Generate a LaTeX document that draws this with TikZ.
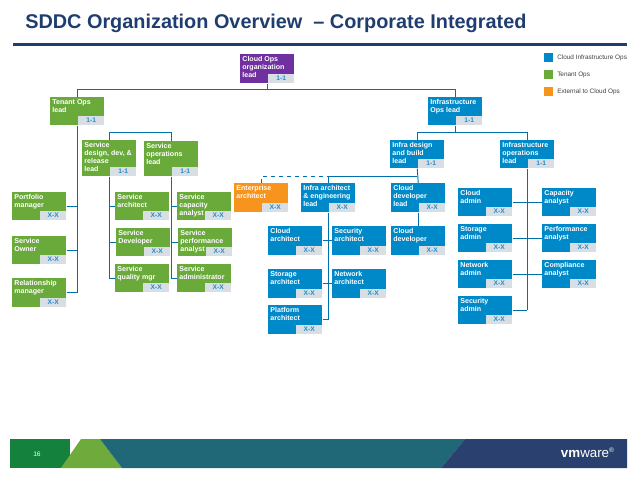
\documentclass[tikz,border=0pt]{standalone}
\usepackage{fontspec}
\setmainfont{Liberation Sans}
\definecolor{cgreen}{RGB}{106,170,58}
\definecolor{cblue}{RGB}{0,137,200}
\definecolor{cpurple}{RGB}{112,48,160}
\definecolor{corange}{RGB}{247,148,29}
\definecolor{cline}{RGB}{0,112,170}
\definecolor{ctag}{RGB}{216,222,228}
\definecolor{ctagtxt}{RGB}{30,140,205}
\definecolor{ctitle}{RGB}{31,62,111}
\definecolor{fdg}{RGB}{20,130,60}
\definecolor{flg}{RGB}{110,170,60}
\definecolor{fteal}{RGB}{32,104,120}
\definecolor{fnavy}{RGB}{42,64,110}
\tikzset{
 boxshape/.style={draw=none,inner sep=0pt,anchor=north west,minimum width=40.5pt},
 boxtxt/.style={anchor=north west,inner sep=1.6pt,text=white,font=\fontsize{5.3}{6}\selectfont\bfseries,align=left},
 tagbox/.style={anchor=south east,fill=ctag,inner sep=0pt,minimum width=19.5pt,minimum height=7pt,text=ctagtxt,font=\fontsize{5}{6}\selectfont\bfseries},
 conn/.style={draw=cline,line width=0.7pt},
 legtxt/.style={anchor=west,font=\fontsize{4.8}{6}\selectfont,text=black!75,inner sep=0pt}
}
\newcommand\bx[7]{%
 \node[boxshape,fill=#5,minimum height=#4*0.75pt] (#1) at (#2,#3) {};
 \node[boxtxt] at (#1.north west) {#6};
 \node[tagbox] at (#1.south east) {#7};}
\begin{document}
\begin{tikzpicture}[x=0.75pt,y=-0.75pt]
\useasboundingbox[fill=white] (0,0) rectangle (638,479);
% title
\node[anchor=west,inner sep=0pt,text=ctitle,font=\fontsize{14.9}{17}\selectfont\bfseries] (title) at (25,23) {SDDC Organization Overview \ --\ Corporate Integrated};
\fill[ctitle] (13,43) rectangle (627,45.5);
% legend
\fill[cblue] (544,53) rectangle (553,62); \node[legtxt] (l1) at (557,57.5) {Cloud Infrastructure Ops};
\fill[cgreen] (544,70) rectangle (553,79); \node[legtxt] (l2) at (557,74.5) {Tenant Ops};
\fill[corange] (544,87) rectangle (553,96); \node[legtxt] (l3) at (557,91.5) {External to Cloud Ops};
\coordinate (h1) at (0,89.5);
\coordinate (h2) at (0,132.5);
\coordinate (h3) at (0,176.5);
% boxes
\bx{co}{240}{54}{29}{cpurple}{Cloud Ops\\organization\\lead}{1-1}
\bx{tl}{50}{97}{28}{cgreen}{Tenant Ops\\lead}{1-1}
\bx{il}{428}{97}{28}{cblue}{Infrastructure\\Ops lead}{1-1}
\bx{sd}{82}{140}{36}{cgreen}{Service\\design, dev, \&\\release\\lead}{1-1}
\bx{so}{144}{141}{35}{cgreen}{Service\\operations\\lead}{1-1}
\bx{idb}{390}{140}{28}{cblue}{Infra design\\and build\\lead}{1-1}
\bx{iol}{500}{140}{28}{cblue}{Infrastructure\\operations\\lead}{1-1}
\bx{pm}{12}{192}{28}{cgreen}{Portfolio\\manager}{X-X}
\bx{sow}{12}{236}{28}{cgreen}{Service\\Owner}{X-X}
\bx{rm}{12}{278}{29}{cgreen}{Relationship\\manager}{X-X}
\bx{sa}{115}{192}{28}{cgreen}{Service\\architect}{X-X}
\bx{sdv}{116}{228}{28}{cgreen}{Service\\Developer}{X-X}
\bx{sq}{115}{264}{28}{cgreen}{Service\\quality mgr}{X-X}
\bx{sc}{177}{192}{28}{cgreen}{Service\\capacity\\analyst}{X-X}
\bx{sp}{178}{228}{28}{cgreen}{Service\\performance\\analyst}{X-X}
\bx{sad}{177}{264}{28}{cgreen}{Service\\administrator}{X-X}
\bx{ea}{234}{183}{29}{corange}{Enterprise\\architect}{X-X}
\bx{ia}{301}{183}{29}{cblue}{Infra architect\\\& engineering\\lead}{X-X}
\bx{cdl}{391}{183}{29}{cblue}{Cloud\\developer\\lead}{X-X}
\bx{ca}{268}{226}{29}{cblue}{Cloud\\architect}{X-X}
\bx{sea}{332}{226}{29}{cblue}{Security\\architect}{X-X}
\bx{cd}{391}{226}{29}{cblue}{Cloud\\developer}{X-X}
\bx{sta}{268}{269}{29}{cblue}{Storage\\architect}{X-X}
\bx{na}{332}{269}{29}{cblue}{Network\\architect}{X-X}
\bx{pa}{268}{305}{29}{cblue}{Platform\\architect}{X-X}
\bx{cad}{458}{188}{28}{cblue}{Cloud\\admin}{X-X}
\bx{stad}{458}{224}{28}{cblue}{Storage\\admin}{X-X}
\bx{nad}{458}{260}{28}{cblue}{Network\\admin}{X-X}
\bx{secad}{458}{296}{28}{cblue}{Security\\admin}{X-X}
\bx{cap}{542}{188}{28}{cblue}{Capacity\\analyst}{X-X}
\bx{pan}{542}{224}{28}{cblue}{Performance\\analyst}{X-X}
\bx{can}{542}{260}{28}{cblue}{Compliance\\analyst}{X-X}
% connectors
\draw[conn] (co.south) -- (co.south |- h1);
\draw[conn] (tl.north) -- (tl.north |- h1) -- (il.north |- h1) -- (il.north);
\draw[conn] (tl.south) -- (tl.south |- rm.east);
\draw[conn] (sd.north) -- (sd.north |- h2) -- (so.north |- h2) -- (so.north);
\foreach \n in {pm,sow,rm} \draw[conn] (\n.east) -- (\n.east -| tl.south);
\draw[conn] (sd.south) -- (sd.south |- sq.west);
\foreach \n in {sa,sdv,sq} \draw[conn] (\n.west) -- (\n.west -| sd.south);
\draw[conn] (so.south) -- (so.south |- sad.west);
\foreach \n in {sc,sp,sad} \draw[conn] (\n.west) -- (\n.west -| so.south);
\draw[conn] (il.south) -- (il.south |- h2);
\draw[conn] (idb.north) -- (idb.north |- h2) -- (iol.north |- h2) -- (iol.north);
\draw[conn] (idb.south) -- (cdl.north);
\draw[conn] (ia.north) -- (ia.north |- h3) -- (idb.south |- h3);
\draw[conn,dashed] (ea.north) -- (ea.north |- h3) -- (ia.north |- h3);
\draw[conn] (cdl.south) -- (cd.north);
\draw[conn] (ia.south) -- (ia.south |- pa.east);
\foreach \n in {ca,sta,pa} \draw[conn] (\n.east) -- (\n.east -| ia.south);
\foreach \n in {sea,na} \draw[conn] (\n.west) -- (\n.west -| ia.south);
\draw[conn] (iol.south) -- (iol.south |- secad.east);
\foreach \n in {cad,stad,nad,secad} \draw[conn] (\n.east) -- (\n.east -| iol.south);
\foreach \n in {cap,pan,can} \draw[conn] (\n.west) -- (\n.west -| iol.south);
% footer
\fill[fdg] (10,439) rectangle (70,468);
\fill[flg] (61,468) -- (81,439) -- (100,439) -- (122,468) -- cycle;
\fill[fteal] (100,439) -- (465,439) -- (441,468) -- (122,468) -- cycle;
\fill[fnavy] (465,439) -- (627,439) -- (627,468) -- (441,468) -- cycle;
\node[text=white,font=\fontsize{5}{6}\selectfont,inner sep=0pt] (pg) at (37,454) {16};
\node[text=white,anchor=east,inner sep=0pt,font=\fontsize{10}{12}\selectfont] (vm) at (615,453) {\textbf{vm}ware\textsuperscript{\tiny ®}};
\end{tikzpicture}
\end{document}
